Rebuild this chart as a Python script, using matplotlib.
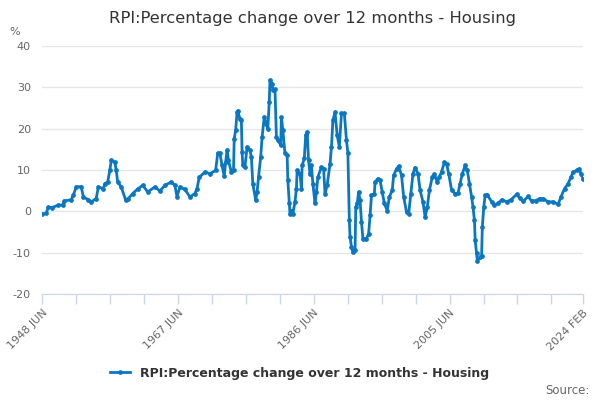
import matplotlib
matplotlib.use("Agg")
import matplotlib.pyplot as plt

# ---------------------------------
#  data
# ---------------------------------

years = [
    1948.42, 1949.0, 1949.3, 1949.8, 1950.7, 1951.3, 1951.5, 1952.5, 1952.8, 1953.2,
    1953.9, 1954.2, 1954.9, 1955.3, 1956.0, 1956.3, 1957.0, 1957.2, 1957.6, 1957.9,
    1958.1, 1958.6, 1958.8, 1959.0, 1959.5, 1960.1, 1960.5, 1961.1, 1961.8, 1962.5,
    1963.2, 1964.2, 1964.9, 1965.6, 1966.5, 1967.0, 1967.3, 1967.7, 1968.4, 1969.1,
    1969.8, 1970.1, 1970.4, 1971.2, 1971.9, 1972.7, 1973.0, 1973.3, 1973.6, 1973.9,
    1974.1, 1974.3, 1974.5, 1974.9, 1975.2, 1975.3, 1975.5, 1975.7, 1975.8, 1976.1,
    1976.3, 1976.4, 1976.5, 1976.8, 1977.1, 1977.5, 1977.7, 1977.9, 1978.3, 1978.5,
    1978.7, 1979.0, 1979.2, 1979.5, 1979.8, 1980.0, 1980.2, 1980.3, 1980.6, 1980.7,
    1981.0, 1981.2, 1981.4, 1981.8, 1981.9, 1982.1, 1982.4, 1982.7, 1982.8, 1983.0,
    1983.1, 1983.3, 1983.5, 1983.8, 1984.0, 1984.1, 1984.5, 1984.7, 1984.8, 1985.1,
    1985.3, 1985.5, 1985.7, 1985.9, 1986.1, 1986.3, 1986.6, 1986.8, 1987.0, 1987.5,
    1987.8, 1988.0, 1988.3, 1988.7, 1988.9, 1989.1, 1989.4, 1989.7, 1990.0, 1990.3,
    1990.7, 1991.0, 1991.2, 1991.4, 1991.5, 1991.7, 1991.9, 1992.2, 1992.3, 1992.5,
    1992.7, 1992.9, 1993.1, 1993.3, 1993.8, 1994.1, 1994.3, 1994.5, 1994.9, 1995.0,
    1995.4, 1995.7, 1996.0, 1996.3, 1996.7, 1997.0, 1997.4, 1997.6, 1998.0, 1998.3,
    1998.7, 1999.0, 1999.4, 1999.7, 2000.0, 2000.3, 2000.6, 2001.0, 2001.3, 2001.7,
    2002.0, 2002.3, 2002.6, 2003.0, 2003.3, 2003.7, 2004.0, 2004.3, 2004.7, 2005.0,
    2005.3, 2005.7, 2006.2, 2006.6, 2006.9, 2007.2, 2007.6, 2007.9, 2008.2, 2008.5,
    2008.7, 2008.9, 2009.0, 2009.2, 2009.3, 2009.7, 2009.9, 2010.0, 2010.2, 2010.4,
    2010.7, 2011.3, 2011.7, 2012.2, 2012.7, 2013.4, 2014.0, 2014.8, 2015.2, 2015.7,
    2016.4, 2016.9, 2017.5, 2018.0, 2018.5, 2019.2, 2019.9, 2020.6, 2021.0, 2021.5,
    2022.0, 2022.4, 2022.7, 2023.2, 2023.5, 2023.8, 2024.08,
]

housing = [
    -0.7, -0.5, 1.0, 0.9, 1.5, 1.5, 2.5, 2.8, 3.9, 5.9,
    6.0, 3.5, 2.8, 2.3, 3.1, 5.9, 5.5, 6.7, 7.1, 9.9,
    12.3, 11.9, 9.9, 7.1, 5.9, 2.8, 3.1, 4.3, 5.4, 6.3,
    4.7, 5.9, 4.9, 6.3, 7.1, 6.3, 3.5, 5.9, 5.3, 3.5,
    4.3, 5.5, 8.2, 9.5, 9.1, 9.9, 14.1, 14.0, 11.1, 8.5,
    11.9, 14.8, 12.3, 9.5, 9.9, 17.6, 19.6, 24.0, 24.3, 22.4,
    22.0, 14.4, 11.1, 10.7, 15.6, 14.8, 13.1, 6.7, 2.7, 4.7,
    8.3, 13.1, 18.0, 22.8, 21.2, 20.0, 26.5, 31.7, 30.9, 29.3,
    29.5, 18.0, 17.2, 16.0, 22.8, 19.6, 14.0, 13.6, 7.5, 1.9,
    -0.6, 0.2, -0.6, 2.3, 5.5, 9.9, 9.1, 5.5, 11.1, 12.8,
    18.4, 19.2, 12.3, 9.1, 11.1, 6.7, 1.9, 4.7, 8.3, 10.7,
    10.3, 4.3, 6.3, 11.5, 15.6, 22.0, 24.0, 18.4, 15.6, 23.7,
    23.7, 17.2, 14.0, -2.2, -6.2, -8.6, -9.9, -9.4, 1.0, 1.9,
    4.7, 2.7, -2.6, -6.6, -6.6, -5.4, -1.0, 3.9, 4.3, 7.1,
    7.9, 7.5, 4.7, 1.9, 0.2, 3.5, 5.1, 8.7, 10.3, 10.9,
    8.7, 3.5, -0.2, -0.6, 4.3, 9.1, 10.6, 9.1, 5.1, 2.3,
    -1.4, 1.0, 5.1, 8.3, 9.0, 7.0, 8.3, 9.6, 11.9, 11.5,
    9.1, 5.1, 4.3, 4.4, 6.7, 9.1, 11.1, 9.9, 6.7, 3.5,
    1.0, -2.2, -7.0, -10.2, -11.9, -11.1, -10.7, -3.8, 1.0, 3.9,
    4.0, 2.3, 1.5, 1.9, 2.8, 2.3, 2.8, 4.1, 3.3, 2.4,
    3.6, 2.5, 2.6, 3.1, 3.1, 2.3, 2.3, 1.7, 3.5, 5.5,
    6.7, 8.3, 9.5, 9.9, 10.3, 9.1, 7.9,
]

tick_labels = ["1948 JUN", "1967 JUN", "1986 JUN", "2005 JUN", "2024 FEB"]
y_ticks = [-20, -10, 0, 10, 20, 30, 40]

title = "RPI:Percentage change over 12 months - Housing"
blue = "#0a77c2"
grey = "#666666"

# -----------------------------------
#  figure
# -----------------------------------

fig = plt.figure(figsize=(6, 4), dpi=100)
ax = fig.add_axes([0.07, 0.265, 0.9017, 0.62])

ax.plot(years, housing, color=blue, linewidth=2, marker="o", markersize=2.4,
        label=title)

start, end = 1948 + 5 / 12, 2024 + 1 / 12
ax.set_xlim(start, end)
ax.set_ylim(-20, 40)

# ticks every 57 months, label every 4th, plus the last month
minor = [start + k * 57 / 12 for k in range(16)] + [end]
ax.set_xticks(minor)
labels = ["" for _ in minor]
for i, lab in zip([0, 4, 8, 12], tick_labels[:4]):
    labels[i] = lab
labels[-1] = tick_labels[-1]
ax.set_xticklabels(labels, rotation=45, ha="right", rotation_mode="anchor",
                   fontsize=8, color=grey)
ax.tick_params(axis="x", length=7, width=1, color="#ccd6eb", pad=3)

ax.set_yticks(y_ticks)
ax.set_yticklabels([str(v) for v in y_ticks], fontsize=8, color=grey)
ax.tick_params(axis="y", length=0, pad=8)

ax.grid(axis="y", color="#e6e6e6", linewidth=1)
ax.set_axisbelow(True)
for s in ["top", "right", "left"]:
    ax.spines[s].set_visible(False)
ax.spines["bottom"].set_color("#ccd6eb")

fig.text(0.521, 0.955, title, ha="center", va="center", fontsize=11.8, color="#333333")
fig.text(0.015, 0.92, "%", ha="left", va="center", fontsize=8, color=grey)

fig.legend(loc="center", bbox_to_anchor=(0.5, 0.067), frameon=False, numpoints=1,
           handlelength=1.6, prop={"size": 9, "weight": "bold"}, labelcolor="#333333")
fig.text(0.982, 0.025, "Source:", ha="right", va="center", fontsize=8.5, color=grey)

fig.savefig("out.png", dpi=100)
